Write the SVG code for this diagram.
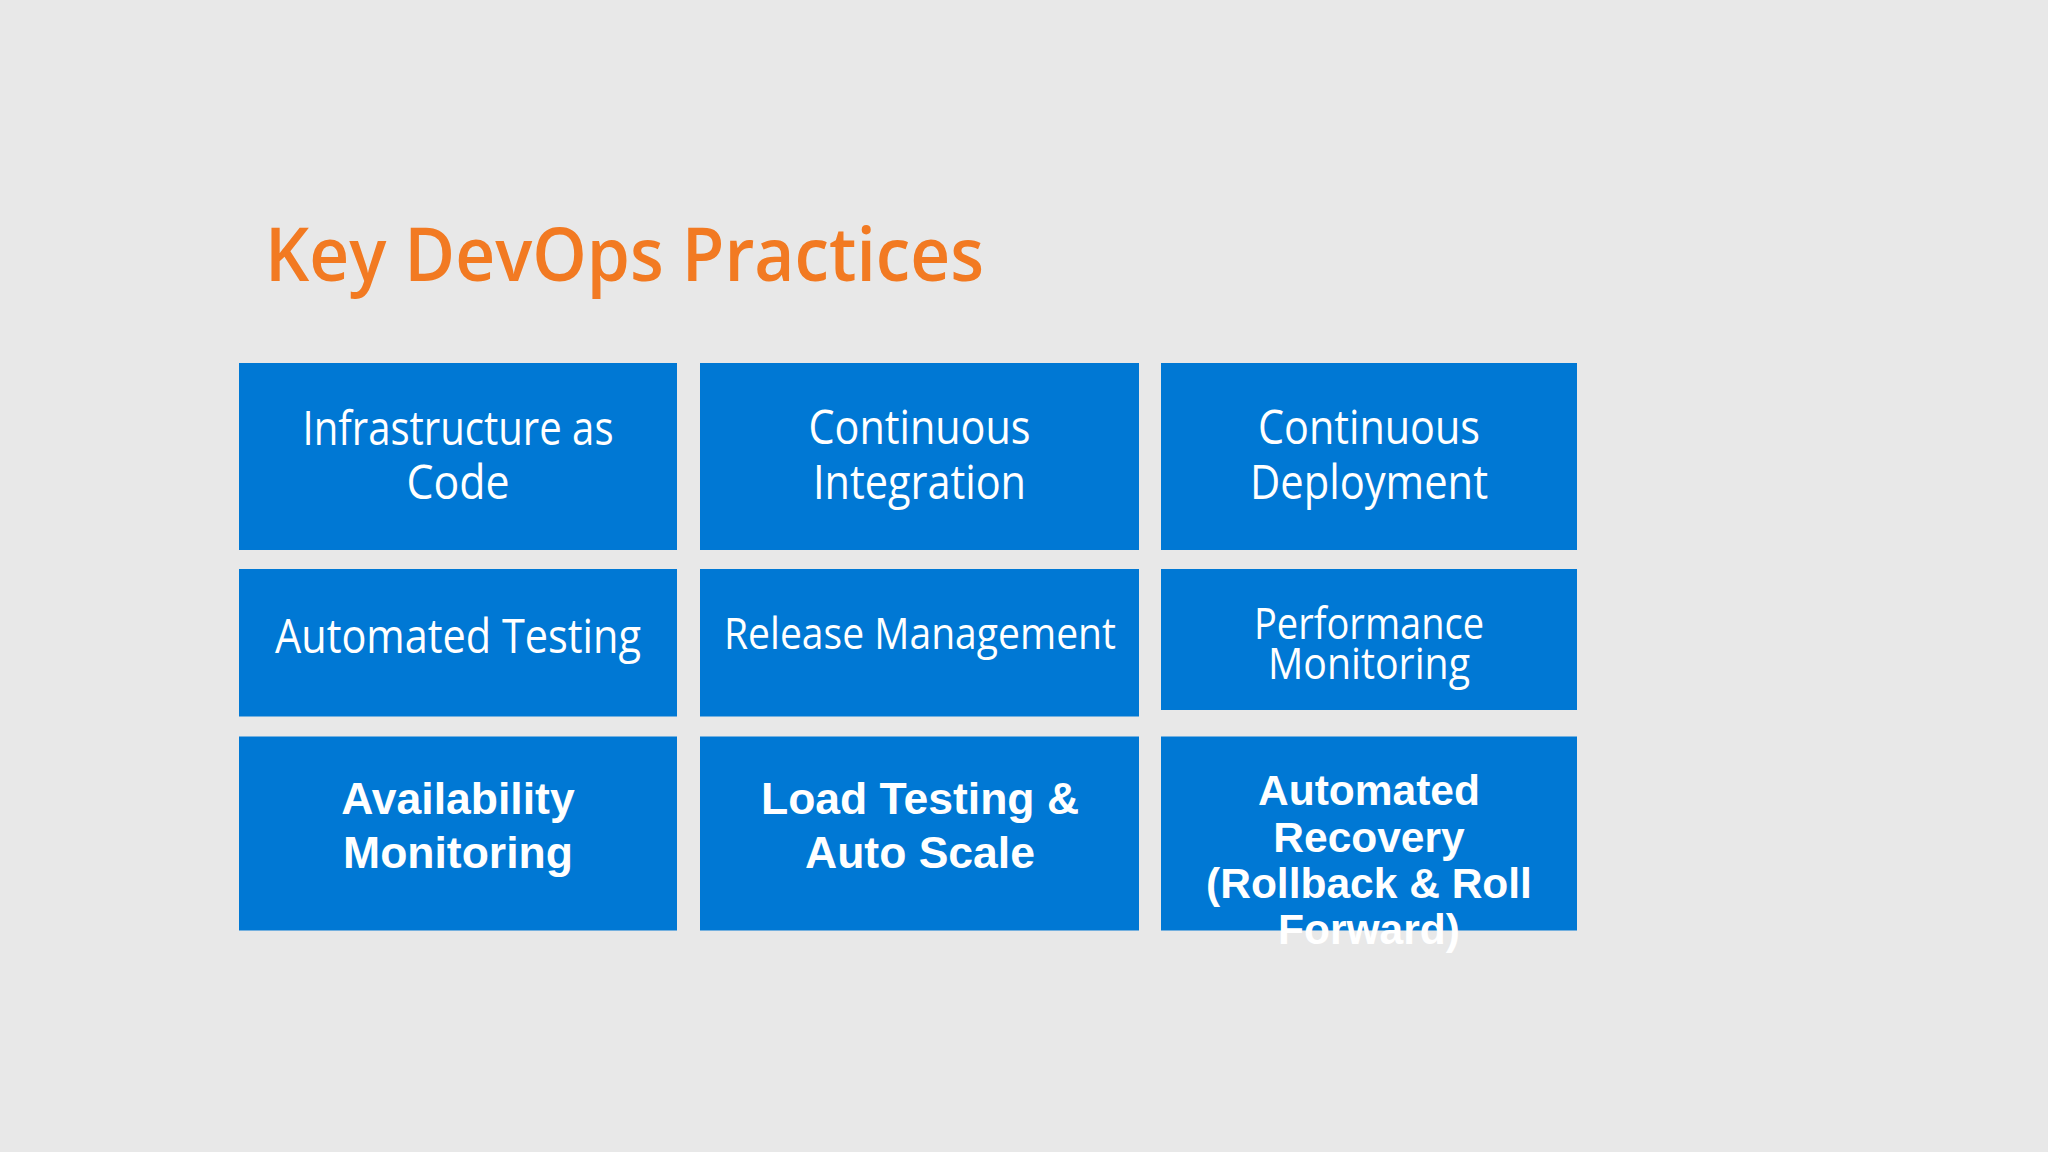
<svg xmlns="http://www.w3.org/2000/svg" width="2048" height="1152" viewBox="0 0 2048 1152">
<style>
.bg{fill:#E8E8E8}
.box{fill:#0078D4}
.t{font-family:"Open Sans","Noto Sans","Liberation Sans",sans-serif;fill:#FFFFFF;text-anchor:middle}
.b{font-family:"Liberation Sans",Arial,sans-serif;font-weight:bold;fill:#FFFFFF;text-anchor:middle}
.title{font-family:"Open Sans","Noto Sans","Liberation Sans",sans-serif;fill:#F27A22;font-size:75px;font-weight:600}
</style>
<rect class="bg" x="0" y="0" width="2048" height="1152"/>
<text class="title" x="265" y="281" textLength="719" lengthAdjust="spacingAndGlyphs">Key DevOps Practices</text>
<g id="connectors"></g>
<g id="node-iac">
<rect class="box" x="239" y="363" width="438" height="187"/>
<text class="t" font-size="48" x="458" y="445" textLength="311" lengthAdjust="spacingAndGlyphs">Infrastructure as</text>
<text class="t" font-size="48" x="458" y="499" textLength="103" lengthAdjust="spacingAndGlyphs">Code</text>
</g>
<g id="node-ci">
<rect class="box" x="700" y="363" width="439" height="187"/>
<text class="t" font-size="48" x="919.5" y="444" textLength="222" lengthAdjust="spacingAndGlyphs">Continuous</text>
<text class="t" font-size="48" x="919.5" y="498.5" textLength="213" lengthAdjust="spacingAndGlyphs">Integration</text>
</g>
<g id="node-cd">
<rect class="box" x="1161" y="363" width="416" height="187"/>
<text class="t" font-size="48" x="1369" y="444" textLength="222" lengthAdjust="spacingAndGlyphs">Continuous</text>
<text class="t" font-size="48" x="1369" y="498.5" textLength="238" lengthAdjust="spacingAndGlyphs">Deployment</text>
</g>
<g id="node-at">
<rect class="box" x="239" y="569" width="438" height="147.5"/>
<text class="t" font-size="48" x="458" y="652.5" textLength="366" lengthAdjust="spacingAndGlyphs">Automated Testing</text>
</g>
<g id="node-rm">
<rect class="box" x="700" y="569" width="439" height="147.5"/>
<text class="t" font-size="44" x="920" y="648.5" textLength="392" lengthAdjust="spacingAndGlyphs">Release Management</text>
</g>
<g id="node-pm">
<rect class="box" x="1161" y="569" width="416" height="141"/>
<text class="t" font-size="43" x="1369" y="638.5" textLength="230" lengthAdjust="spacingAndGlyphs">Performance</text>
<text class="t" font-size="43" x="1369" y="678.5" textLength="202" lengthAdjust="spacingAndGlyphs">Monitoring</text>
</g>
<g id="node-am">
<rect class="box" x="239" y="736.5" width="438" height="194"/>
<text class="b" font-size="44.5" x="458" y="814">Availability</text>
<text class="b" font-size="44.5" x="458" y="868">Monitoring</text>
</g>
<g id="node-lt">
<rect class="box" x="700" y="736.5" width="439" height="194"/>
<text class="b" font-size="44.5" x="920" y="814">Load Testing &amp;</text>
<text class="b" font-size="44.5" x="920" y="868">Auto Scale</text>
</g>
<g id="node-ar">
<rect class="box" x="1161" y="736.5" width="416" height="194"/>
<text class="b" font-size="42.5" x="1369" y="805">Automated</text>
<text class="b" font-size="42.5" x="1369" y="851.5">Recovery</text>
<text class="b" font-size="42.5" x="1369" y="898">(Rollback &amp; Roll</text>
<text class="b" font-size="42.5" x="1369" y="943.5">Forward)</text>
</g>
</svg>
